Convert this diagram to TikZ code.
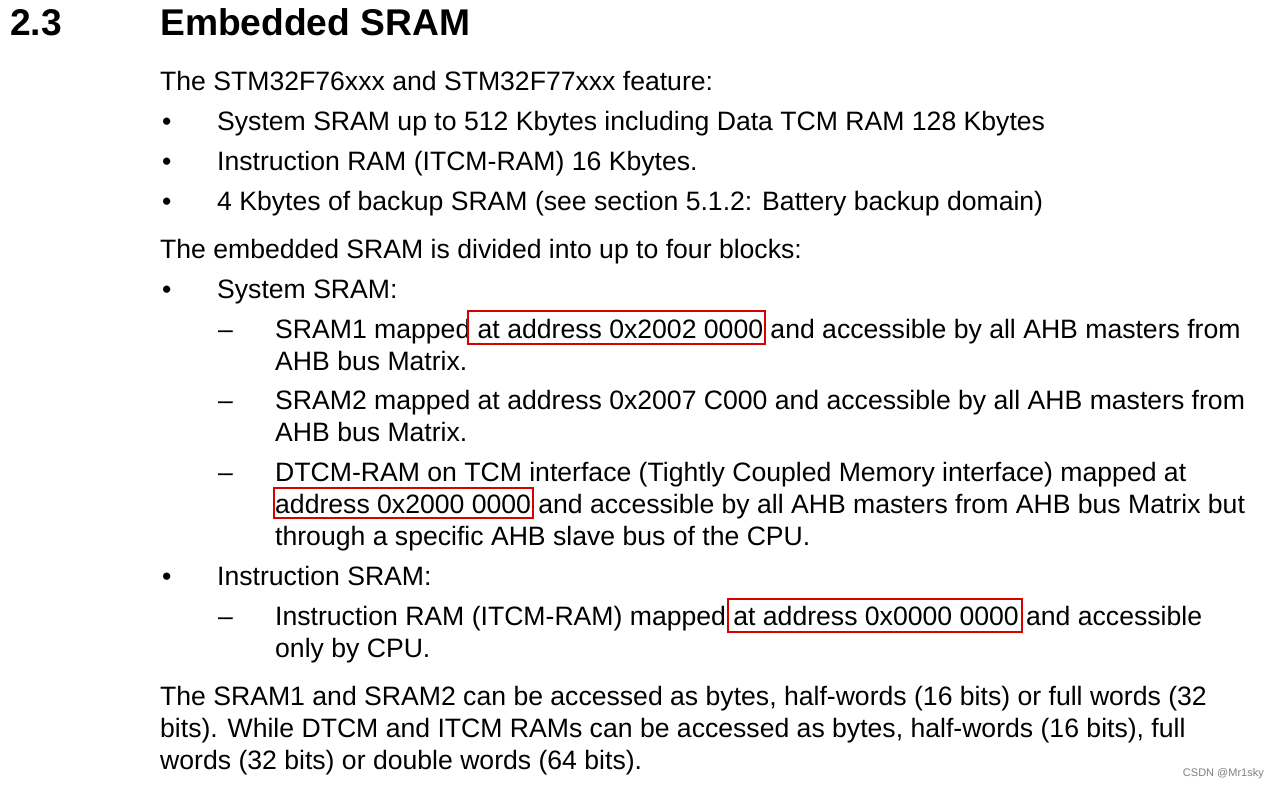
\documentclass[tikz,border=0pt]{standalone}
\usepackage{fontspec}
\setmainfont{Liberation Sans}
\begin{document}
\begin{tikzpicture}[x=1pt,y=-1pt,
  txt/.style={anchor=base west,inner sep=0pt,font=\fontsize{26.6}{30}\selectfont},
  hd/.style={anchor=base west,inner sep=0pt,font=\fontsize{37.2}{42}\selectfont\bfseries},
  redbox/.style={draw=red!85!black,line width=1.3pt}]
\useasboundingbox (0,0) rectangle (1278,788);
\fill[white] (0,0) rectangle (1278,788);
\node[hd] (h1) at (10,35) {2.3};
\node[hd] (h2) at (160,35) {Embedded SRAM};
\node[txt] (l1) at (160,90) {The STM32F76xxx and STM32F77xxx feature:};
\node[txt] (b1) at (162,130) {•};
\node[txt] (t1) at (217,130) {System SRAM up to 512 Kbytes including Data TCM RAM 128 Kbytes};
\node[txt] (b2) at (162,170) {•};
\node[txt] (t2) at (217,170) {Instruction RAM (ITCM-RAM) 16 Kbytes.};
\node[txt] (b3) at (162,210) {•};
\node[txt] (t3) at (217,210) {4 Kbytes of backup SRAM (see section 5.1.2: Battery backup domain)};
\node[txt] (l2) at (160,258) {The embedded SRAM is divided into up to four blocks:};
\node[txt] (b4) at (162,298) {•};
\node[txt] (t4) at (217,298) {System SRAM:};
\node[txt] (d1) at (218,338) {–};
\node[txt] (s1a) at (275,338) {SRAM1 mapped at address 0x2002 0000 and accessible by all AHB masters from};
\node[txt] (s1b) at (275,370) {AHB bus Matrix.};
\node[txt] (d2) at (218,409) {–};
\node[txt] (s2a) at (275,409) {SRAM2 mapped at address 0x2007 C000 and accessible by all AHB masters from};
\node[txt] (s2b) at (275,441) {AHB bus Matrix.};
\node[txt] (d3) at (218,481) {–};
\node[txt] (s3a) at (275,481) {DTCM-RAM on TCM interface (Tightly Coupled Memory interface) mapped at};
\node[txt] (s3b) at (275,513) {address 0x2000 0000 and accessible by all AHB masters from AHB bus Matrix but};
\node[txt] (s3c) at (275,545) {through a specific AHB slave bus of the CPU.};
\node[txt] (b5) at (162,585) {•};
\node[txt] (t5) at (217,585) {Instruction SRAM:};
\node[txt] (d4) at (218,625) {–};
\node[txt] (s4a) at (275,625) {Instruction RAM (ITCM-RAM) mapped at address 0x0000 0000 and accessible};
\node[txt] (s4b) at (275,657) {only by CPU.};
\node[txt] (p1) at (160,705) {The SRAM1 and SRAM2 can be accessed as bytes, half-words (16 bits) or full words (32};
\node[txt] (p2) at (160,737) {bits). While DTCM and ITCM RAMs can be accessed as bytes, half-words (16 bits), full};
\node[txt] (p3) at (160,769) {words (32 bits) or double words (64 bits).};
\node[anchor=base east,inner sep=0pt,text=gray,font=\fontsize{11}{13}\selectfont] (wm) at (1264,776) {CSDN @Mr1sky};
\draw[redbox] (468,311) rectangle (765,344);
\draw[redbox] (274,488) rectangle (533,518);
\draw[redbox] (728,599) rectangle (1022,632);
\end{tikzpicture}
\end{document}
